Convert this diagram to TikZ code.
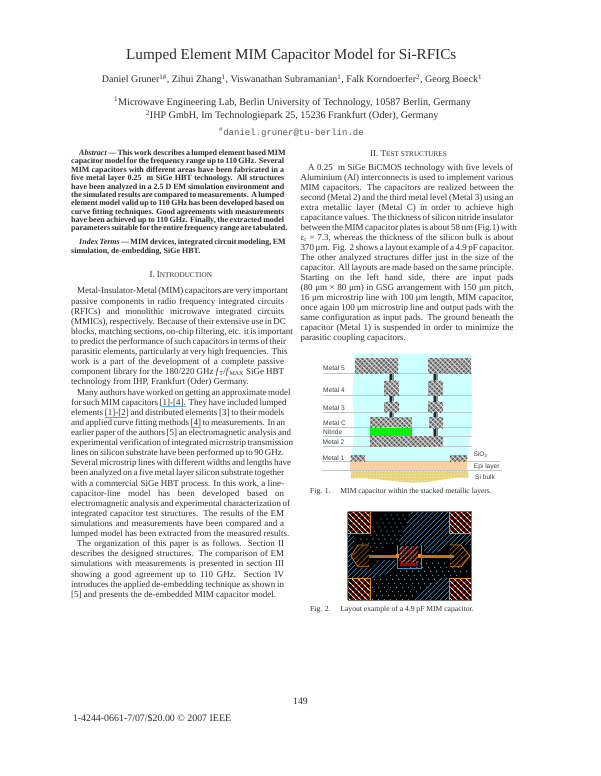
\documentclass[tikz,border=0pt]{standalone}
\usepackage{fontspec}
\setmainfont{Liberation Serif}
\setsansfont{Liberation Sans}
\setmonofont{Liberation Mono}
\usetikzlibrary{patterns,patterns.meta}
\definecolor{inktext}{RGB}{45,45,45}
\definecolor{oxide}{RGB}{204,255,255}
\definecolor{epi}{RGB}{255,204,153}
\definecolor{bulk}{RGB}{232,208,110}
\definecolor{linkblue}{RGB}{90,170,235}
\definecolor{laygray}{RGB}{190,200,200}
\definecolor{metalblue}{RGB}{60,150,205}
\definecolor{metalorange}{RGB}{235,135,20}
\definecolor{feedtan}{RGB}{165,115,65}
\newcommand{\jl}[2][213pt]{\hbox to #1{#2}}
\tikzset{
  bodyline/.style={anchor=mid west,inner sep=0pt,text=inktext,font=\fontsize{9}{10}\selectfont},
  absline/.style={anchor=mid west,inner sep=0pt,text=inktext,font=\fontsize{8}{9}\selectfont\bfseries},
  headline/.style={anchor=mid west,inner sep=0pt,text=inktext},
  laylabel/.style={anchor=mid west,inner sep=0pt,text=black!75,font=\sffamily\fontsize{6.6}{7}\selectfont},
  layline/.style={draw=laygray,line width=.6pt},
  metalbox/.style={preaction={fill=black!40},preaction={pattern={Lines[angle=45,distance=3.2pt,line width=.7pt]},pattern color=black!75},pattern={Lines[angle=-45,distance=3.5pt,line width=.8pt]},pattern color=white!90!black},
  viabar/.style={fill=black!45},
  viacore/.style={fill=black!85},
  padbox/.style={preaction={fill=black},preaction={pattern={Lines[angle=45,distance=4pt,line width=.7pt]},pattern color=red!85!black},pattern={Lines[angle=-45,distance=4pt,line width=1pt]},pattern color=white!85!yellow},
  capbox/.style={preaction={fill=black},preaction={pattern={Lines[angle=45,distance=3.6pt,line width=1pt]},pattern color=black!40},pattern={Lines[angle=-45,distance=3.6pt,line width=.8pt]},pattern color=red!70!black},
  gndpad/.style={pattern={Lines[angle=45,distance=3.6pt,line width=.6pt]},pattern color=metalorange!70!black},
  solidhatch/.style={metalblue,line width=.65pt},
  dothatch/.style={metalblue,line width=.8pt,dash pattern=on 1.2pt off 4.5pt},
}
\begin{document}
\begin{tikzpicture}[x=1pt,y=-1pt]
\useasboundingbox[fill=white] (0,0) rectangle (600,776);
% header
\node[headline,font=\fontsize{15.2}{18}\selectfont] (title) at (126,57.3) {Lumped Element MIM Capacitor Model for Si-RFICs};
\node[headline,font=\fontsize{10}{12}\selectfont] (authors) at (101.7,80.7) {Daniel Gruner\textsuperscript{1\#}, Zihui Zhang\textsuperscript{1}, Viswanathan Subramanian\textsuperscript{1}, Falk Korndoerfer\textsuperscript{2}, Georg Boeck\textsuperscript{1}};
\node[headline,font=\fontsize{10.1}{12}\selectfont] (affilA) at (114,103.3) {\textsuperscript{1}Microwave Engineering Lab, Berlin University of Technology, 10587 Berlin, Germany};
\node[headline,font=\fontsize{10.1}{12}\selectfont] (affilB) at (145.7,116.7) {\textsuperscript{2}IHP GmbH, Im Technologiepark 25, 15236 Frankfurt (Oder), Germany};
\node[headline,font=\fontsize{9}{12}\ttfamily\selectfont,text=black!65] (email) at (219,133.3) {\textsuperscript{\#}daniel.gruner@tu-berlin.de};
% left column
\foreach \txt/\xpos [count=\i] in {
\jl[205pt]{\textit{Abstract} --- This work describes a lumped element based MIM}/79,
\jl{capacitor model for the frequency range up to 110 GHz. Several}/71,
\jl{MIM capacitors with different areas have been fabricated in a}/71,
\jl{five metal layer 0.25 \ m SiGe HBT technology. All structures}/71,
\jl{have been analyzed in a 2.5 D EM simulation environment and}/71,
\jl{the simulated results are compared to measurements. A lumped}/71,
\jl{element model valid up to 110 GHz has been developed based on}/71,
\jl{curve fitting techniques. Good agreements with measurements}/71,
\jl{have been achieved up to 110 GHz. Finally, the extracted model}/71,
\jl{parameters suitable for the entire frequency range are tabulated.}/71}
  \node[absline] (abs\i) at (\xpos,{153.3+8.37*(\i-1)}) {\txt};
\node[absline] (idxA) at (79,242.7) {\jl[205pt]{\textit{Index Terms} --- MIM devices, integrated circuit modeling, EM}};
\node[absline] (idxB) at (71,251.7) {simulation, de-embedding, SiGe HBT.};
\node[headline,font=\fontsize{9}{10}\selectfont] (secA) at (149.3,275.7) {I. I{\fontsize{7.2}{10}\selectfont NTRODUCTION}};
\foreach \txt/\xpos [count=\i] in {
\jl[207pt]{Metal-Insulator-Metal (MIM) capacitors are very important}/77,
\jl{passive components in radio frequency integrated circuits}/71,
\jl{(RFICs) and monolithic microwave integrated circuits}/71,
\jl{(MMICs), respectively. Because of their extensive use in DC}/71,
\jl{blocks, matching sections, on-chip filtering, etc. it is important}/71,
\jl{to predict the performance of such capacitors in terms of their}/71,
\jl{parasitic elements, particularly at very high frequencies. This}/71,
\jl{work is a part of the development of a complete passive}/71,
\jl{component library for the 180/220 GHz \textit{f}\textsubscript{T}/\textit{f}\textsubscript{MAX} SiGe HBT}/71,
{technology from IHP, Frankfurt (Oder) Germany.}/71,
\jl[207pt]{Many authors have worked on getting an approximate model}/77,
\jl{for such MIM capacitors [1]-[4]. They have included lumped}/71,
\jl{elements [1]-[2] and distributed elements [3] to their models}/71,
\jl{and applied curve fitting methods [4] to measurements. In an}/71,
\jl{earlier paper of the authors [5] an electromagnetic analysis and}/71,
\jl{experimental verification of integrated microstrip transmission}/71,
\jl{lines on silicon substrate have been performed up to 90 GHz.}/71,
\jl{Several microstrip lines with different widths and lengths have}/71,
\jl{been analyzed on a five metal layer silicon substrate together}/71,
\jl{with a commercial SiGe HBT process. In this work, a line-}/71,
\jl{capacitor-line model has been developed based on}/71,
\jl{electromagnetic analysis and experimental characterization of}/71,
\jl{integrated capacitor test structures. The results of the EM}/71,
\jl{simulations and measurements have been compared and a}/71,
{lumped model has been extracted from the measured results.}/71,
\jl[207pt]{The organization of this paper is as follows. Section II}/77,
\jl{describes the designed structures. The comparison of EM}/71,
\jl{simulations with measurements is presented in section III}/71,
\jl{showing a good agreement up to 110 GHz. Section IV}/71,
\jl{introduces the applied de-embedding technique as shown in}/71,
{[5] and presents the de-embedded MIM capacitor model.}/71}
  \node[bodyline] (intro\i) at (\xpos,{291.7+10.11*(\i-1)}) {\txt};
% citation underlines
\draw[linkblue,line width=.7pt] (160.7,406.7) -- (185.7,406.7);
\draw[linkblue,line width=.7pt] (105,417) -- (127.3,417);
\draw[linkblue,line width=.7pt] (191,427.3) -- (201,427.3);
% right column
\node[headline,font=\fontsize{9}{10}\selectfont] (secB) at (370,154) {II. T{\fontsize{7.2}{10}\selectfont EST STRUCTURES}};
\foreach \txt/\xpos [count=\i] in {
\jl[205pt]{A 0.25 \ m SiGe BiCMOS technology with five levels of}/308,
\jl{Aluminium (Al) interconnects is used to implement various}/300.5,
\jl{MIM capacitors. The capacitors are realized between the}/300.5,
\jl{second (Metal 2) and the third metal level (Metal 3) using an}/300.5,
\jl{extra metallic layer (Metal C) in order to achieve high}/300.5,
\jl{capacitance values. The thickness of silicon nitride insulator}/300.5,
\jl{between the MIM capacitor plates is about 58 nm (Fig.1) with}/300.5,
\jl{ε\textsubscript{r} = 7.3, whereas the thickness of the silicon bulk is about}/300.5,
\jl{370 μm. Fig. 2 shows a layout example of a 4.9 pF capacitor.}/300.5,
\jl{The other analyzed structures differ just in the size of the}/300.5,
\jl{capacitor. All layouts are made based on the same principle.}/300.5,
\jl{Starting on the left hand side, there are input pads}/300.5,
\jl{(80 μm × 80 μm) in GSG arrangement with 150 μm pitch,}/300.5,
\jl{16 μm microstrip line with 100 μm length, MIM capacitor,}/300.5,
\jl{once again 100 μm microstrip line and output pads with the}/300.5,
\jl{same configuration as input pads. The ground beneath the}/300.5,
\jl{capacitor (Metal 1) is suspended in order to minimize the}/300.5,
{parasitic coupling capacitors.}/300.5}
  \node[bodyline] (test\i) at (\xpos,{168.3+10.02*(\i-1)}) {\txt};
% fig 1: oxide and substrate
\fill[oxide] (354,353.5) -- (470.7,353.5) .. controls (473,375) and (471,395) .. (472.5,410) .. controls (473,430) and (468,445) .. (467.3,462) -- (350.7,462) .. controls (353,445) and (355,425) .. (353,405) .. controls (351,385) and (356,372) .. (354,353.5);
\path[preaction={fill=bulk},pattern=crosshatch dots,pattern color=white!80!bulk] (350.7,470) -- (468,470) -- (468.5,478) .. controls (450,476) and (435,483) .. (412,482.5) .. controls (395,482) and (370,477) .. (351,478.5) -- cycle;
\path[preaction={fill=epi},pattern=dots,pattern color=white] (350,461.7) rectangle (467.3,470);
% fig 1: layer lines
\foreach \ypos in {373.7,395.7,412.3,427.3,436.3,446.7}
  \draw[layline] (323,\ypos) -- (472,\ypos);
\draw[layline] (322,461.7) -- (500,461.7);
\draw[layline] (322,470) -- (501.7,470);
% fig 1: vias
\fill[viabar] (388.5,373) rectangle (393.5,418);
\fill[viacore] (390,373) rectangle (392,418);
\fill[viabar] (432.7,373) rectangle (438,437);
\fill[viacore] (434.3,373) rectangle (436.3,437);
% fig 1: metals
\path[metalbox] (355,358) rectangle (398,373.7);
\path[metalbox] (428,358) rectangle (471,373.7);
\path[metalbox] (384.3,380.7) rectangle (399,395.7);
\path[metalbox] (428.3,380.7) rectangle (443,395.7);
\path[metalbox] (384.3,401.7) rectangle (399,412.3);
\path[metalbox] (428.3,401.7) rectangle (443,412.3);
\path[metalbox] (370.3,417.3) rectangle (411.7,427.3);
\path[metalbox] (429.3,417.3) rectangle (443,428);
\path[preaction={fill=green},pattern=dots,pattern color=black!70] (370.3,428) rectangle (411.7,436);
\path[metalbox] (370.3,436) rectangle (443,446.7);
\path[metalbox] (350.7,455.3) rectangle (365,461.3);
\path[metalbox] (450,455.3) rectangle (467.3,461.3);
% fig 1: labels
\node[laylabel] (lmfive) at (323,368.3) {Metal 5};
\node[laylabel] (lmfour) at (323,390) {Metal 4};
\node[laylabel] (lmthree) at (323,408) {Metal 3};
\node[laylabel] (lmc) at (323,423.3) {Metal C};
\node[laylabel] (lnit) at (323,432.3) {Nitride};
\node[laylabel] (lmtwo) at (322.5,442) {Metal 2};
\node[laylabel] (lmone) at (322.5,457.7) {Metal 1};
\node[laylabel] (lsio) at (473.3,454.7) {SiO\textsubscript{2}};
\node[laylabel] (lepi) at (473.7,466) {Epi layer};
\node[laylabel] (lsi) at (475,476.7) {Si bulk};
\node[bodyline,font=\fontsize{7.6}{9}\selectfont] (capA) at (310,491) {Fig. 1.\hspace{10pt}MIM capacitor within the stacked metallic layers.};
% fig 2: layout
\fill[black] (347.7,511.7) rectangle (471.3,600);
\begin{scope}
\clip (412,512) -- (449,512) -- (449,533) -- (471,533) -- (471,545) -- (449,545) -- (436,553) -- (424,553) -- (424,545) -- (397,545) -- cycle;
\foreach \d in {0,5,...,200}
  \draw[solidhatch] (300+\d,600) -- (300+\d+90,510);
\end{scope}
\begin{scope}
\clip (348,534) -- (354,534) -- (354,544) -- (351,556) -- (356,568) -- (372,568) -- (380,560) -- (396,560) -- (396,566) -- (385,575) -- (370,578) -- (348,578) -- cycle;
\foreach \d in {0,5,...,200}
  \draw[solidhatch] (250+\d,600) -- (250+\d+90,510);
\end{scope}
\begin{scope}
\clip (421,590) -- (440,578) -- (449,578) -- (449,600) -- (413,600) -- cycle;
\foreach \d in {0,5,...,200}
  \draw[solidhatch] (300+\d,600) -- (300+\d+90,510);
\end{scope}
\begin{scope}
\clip (372,512) -- (412,512) -- (397,543) -- (372,552) -- (355,540) -- (372,534) -- cycle;
\foreach \d in {0,6,...,200}
  \draw[dothatch] (300+\d,600) -- (300+\d+90,510);
\end{scope}
\begin{scope}
\clip (424,560) -- (449,560) -- (471,572) -- (449,578) -- (421,590) -- (413,600) -- (372,600) -- (372,580) -- (396,572) -- cycle;
\foreach \d in {0,6,...,200}
  \draw[dothatch] (300+\d,600) -- (300+\d+90,510);
\end{scope}
% fig 2: pads
\path[padbox] (348.3,512) rectangle (370,533.3);
\path[padbox] (449.3,512) rectangle (471,533.3);
\path[padbox] (348.3,578.3) rectangle (370,600);
\path[padbox] (449.3,578.3) rectangle (471,600);
\draw[metalorange,line width=.8pt] (348.3,533.3) -- (370,533.3) -- (370,512);
\draw[metalorange,line width=.8pt] (449.3,512) -- (449.3,533.3) -- (471,533.3);
\draw[metalorange,line width=.8pt] (348.3,578.3) -- (370,578.3) -- (370,600);
\draw[metalorange,line width=.8pt] (449.3,600) -- (449.3,578.3) -- (471,578.3);
\path[gndpad] (358,545) -- (369,545) -- (369,566.7) -- (358,566.7) -- (351,556) -- cycle;
\draw[metalorange,line width=.7pt] (369,566.7) -- (358,566.7) -- (351,556) -- (358,545) -- (369,545);
\path[gndpad] (461,545) -- (450,545) -- (450,566.7) -- (461,566.7) -- (470,556) -- cycle;
\draw[metalorange,line width=.7pt] (450,545) -- (461,545) -- (470,556) -- (461,566.7) -- (450,566.7);
% fig 2: capacitor and feed lines
\draw[metalblue,line width=.9pt] (397.3,545) -- (397.3,568.3) -- (421.7,568.3) -- (421.7,545);
\path[capbox] (399,546) rectangle (418.3,563.3);
\fill[red!65!black] (400,563.3) rectangle (418,566);
\draw[feedtan,line width=3pt] (369.3,556.7) -- (396.7,556.7);
\draw[metalorange!85!black,line width=3pt] (420,556.7) -- (454,556.7);
\fill[metalorange] (395.5,553.5) rectangle (399,558);
\fill[metalorange] (418,553.5) rectangle (421,558);
\draw[black!55,line width=.6pt] (347.7,511.7) -- (471.3,511.7) -- (471.3,600) -- (347.7,600);
\draw[metalblue,line width=.7pt] (347.7,511.7) -- (347.7,600);
\node[bodyline,font=\fontsize{7.6}{9}\selectfont] (capB) at (310,609) {Fig. 2.\hspace{10pt}Layout example of a 4.9 pF MIM capacitor.};
% footer
\node[headline,font=\fontsize{9.7}{10}\selectfont] (pagenum) at (293,702) {149};
\node[bodyline,font=\fontsize{9.9}{10}\selectfont] (copyright) at (72.7,719) {1-4244-0661-7/07/\$20.00 © 2007 IEEE};
\end{tikzpicture}
\end{document}
